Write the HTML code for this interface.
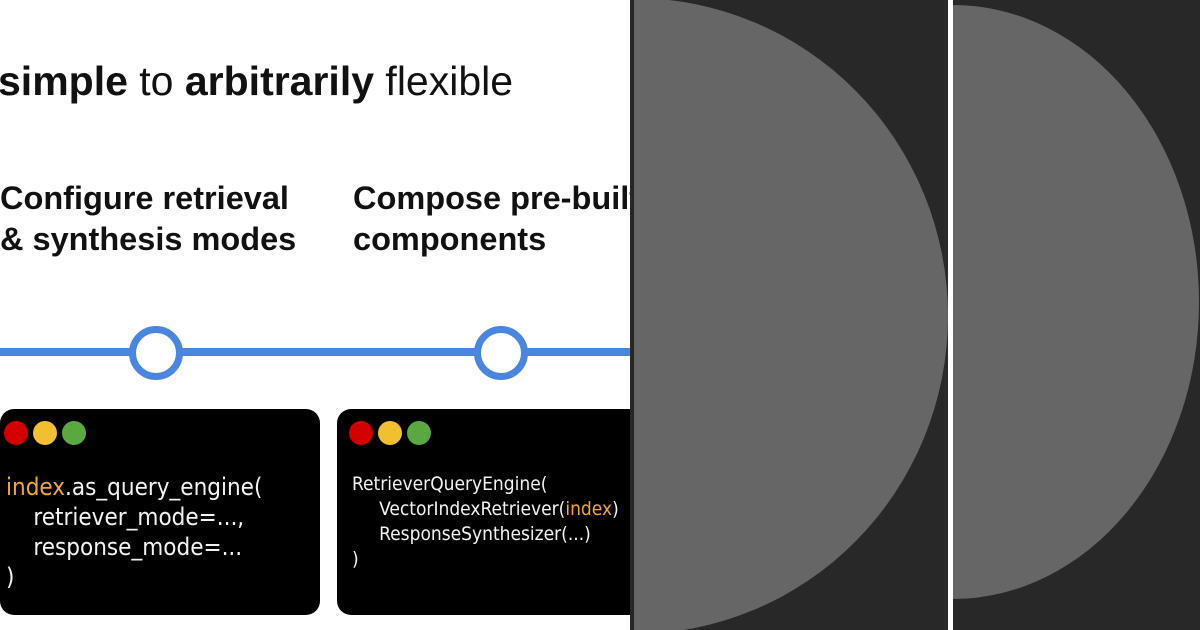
<!DOCTYPE html>
<html><head><style>
body{margin:0;width:1200px;height:630px;overflow:hidden;background:#fff;font-family:"Liberation Sans",sans-serif;position:relative}
.a{position:absolute;white-space:nowrap}
.card{position:absolute;background:#000;border-radius:14px;top:409px;height:206px}
.dot{position:absolute;width:24px;height:24px;border-radius:50%;top:421px}
.code{position:absolute;color:#f2f2f2;font-family:"DejaVu Sans Condensed","Liberation Sans Narrow","Liberation Sans",sans-serif;white-space:pre}
.o{color:#f0a830}
</style></head><body>
<div class="a" style="left:-2px;top:58px;font-size:41px;color:#111"><b>simple</b> to <b>arbitrarily</b> flexible</div>
<div class="a" style="left:0;top:178px;font-size:32.5px;font-weight:bold;line-height:41px;color:#111">Configure retrieval<br>&amp; synthesis modes</div>
<div class="a" style="left:353px;top:178px;font-size:32.5px;font-weight:bold;line-height:41px;color:#111">Compose pre-built<br>components</div>
<div class="a" style="left:0;top:348px;width:640px;height:8px;background:#4a86e0"></div>
<div class="a" style="left:129px;top:326px;width:40px;height:40px;border:7px solid #4a86e0;border-radius:50%;background:#fff"></div>
<div class="a" style="left:474px;top:326px;width:40px;height:40px;border:7px solid #4a86e0;border-radius:50%;background:#fff"></div>
<div class="card" style="left:0;width:320px"></div>
<div class="card" style="left:337px;width:310px"></div>
<div class="dot" style="left:4px;background:#d40000"></div>
<div class="dot" style="left:33px;background:#f0c030"></div>
<div class="dot" style="left:62px;background:#5aa840"></div>
<div class="dot" style="left:349px;background:#d40000"></div>
<div class="dot" style="left:378px;background:#f0c030"></div>
<div class="dot" style="left:407px;background:#5aa840"></div>
<div class="code" style="left:6px;top:472px;font-size:24px;line-height:30px"><span class="o">index</span>.as_query_engine(
    retriever_mode=...,
    response_mode=...
)</div>
<div class="code" style="left:352px;top:472px;font-size:19px;line-height:25px">RetrieverQueryEngine(
     VectorIndexRetriever(<span class="o">index</span>)
     ResponseSynthesizer(...)
)</div>
<svg class="a" style="left:630px;top:0" width="570" height="630">
<rect width="570" height="630" fill="#282828"/>
<path d="M4 -2 A314 318 0 0 1 4 634 Z" fill="#666"/>
<rect x="318" y="0" width="5" height="630" fill="#fff"/>
<path d="M323 5 A246 297 0 0 1 323 599 Z" fill="#666"/>
</svg>
</body></html>
